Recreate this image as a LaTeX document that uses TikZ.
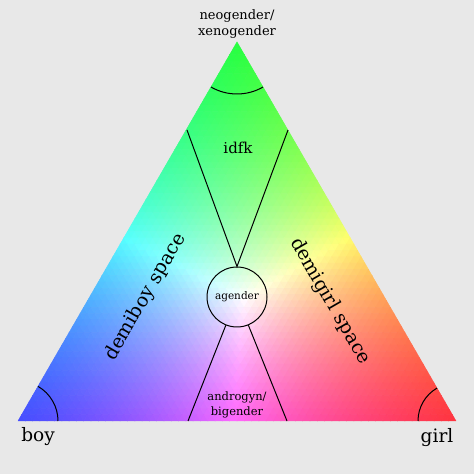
\documentclass[tikz,border=0pt]{standalone}
\usepackage{fontspec}
\setmainfont{DejaVu Serif}
\definecolor{bgc}{RGB}{232,232,232}
\newcommand\setcol[2]{%
  \pgfmathsetmacro\wtA{#1}%
  \pgfmathsetmacro\wtC{#2}%
  \pgfmathsetmacro\wtB{1-\wtA-\wtC}%
  \pgfmathsetmacro\colR{\wtA*0.15+\wtB*0.27+\wtC*1.0}%
  \pgfmathsetmacro\colG{\wtA*1.0+\wtB*0.3+\wtC*0.2}%
  \pgfmathsetmacro\colB{\wtA*0.25+\wtB*1.0+\wtC*0.25}%
  \pgfmathsetmacro\colM{max(\colR,\colG,\colB)}%
  \pgfmathsetmacro\colR{min(1,\colR/\colM)}%
  \pgfmathsetmacro\colG{min(1,\colG/\colM)}%
  \pgfmathsetmacro\colB{min(1,\colB/\colM)}%
  \definecolor{tc}{rgb}{\colR,\colG,\colB}}
\begin{document}
\begin{tikzpicture}[x=1pt,y=1pt,
  edge/.style={line width=1pt,black},
  lbl/.style={text=black,inner sep=1pt,align=center},
  cell/.style={fill=tc,draw=tc,line width=0.5pt,line join=round}]
\useasboundingbox (0,0) rectangle (474,474);
\fill[bgc] (0,0) rectangle (474,474);
\def\NN{60}
\pgfmathsetmacro\dxL{219/\NN}
\pgfmathsetmacro\dxR{438/\NN}
\pgfmathsetmacro\dy{379/\NN}
\foreach \i in {0,...,59}{
  \foreach \j in {0,...,\i}{
    \setcol{1-(3*\i+2)/(3*\NN)}{(3*\j+1)/(3*\NN)}
    \fill[cell] ({237-\dxL*\i+\dxR*\j},{432-\dy*\i})
      -- ({237-\dxL*(\i+1)+\dxR*\j},{432-\dy*(\i+1)})
      -- ({237-\dxL*(\i+1)+\dxR*(\j+1)},{432-\dy*(\i+1)}) -- cycle;
    \ifnum\j<\i
      \setcol{1-(3*\i+1)/(3*\NN)}{(3*\j+2)/(3*\NN)}
      \fill[cell] ({237-\dxL*\i+\dxR*\j},{432-\dy*\i})
        -- ({237-\dxL*\i+\dxR*(\j+1)},{432-\dy*\i})
        -- ({237-\dxL*(\i+1)+\dxR*(\j+1)},{432-\dy*(\i+1)}) -- cycle;
    \fi
  }
}
\coordinate (T) at (237,432);
\coordinate (L) at (18,53);
\coordinate (R) at (456,53);
\node[circle,draw,line width=1pt,minimum size=60pt,inner sep=0pt,font=\fontsize{10.5}{12}\selectfont] (agender) at (237,177) {agender};
\coordinate (ul) at (187,344);
\coordinate (ur) at (288,344);
\coordinate (bl) at (188,53);
\coordinate (br) at (287,53);
\draw[edge] (ul) -- (agender.north) -- (ur);
\draw[edge] (bl) -- (agender);
\draw[edge] (br) -- (agender);
\draw[edge] ([shift={(240:52)}]T) arc[start angle=240,end angle=300,radius=52];
\draw[edge] ([shift={(0:40)}]L) arc[start angle=0,end angle=60,radius=40];
\draw[edge] ([shift={(120:38)}]R) arc[start angle=120,end angle=180,radius=38];
\node[lbl,font=\fontsize{13}{16}\selectfont] (neo) at (237,450) {neogender/\\xenogender};
\node[lbl,font=\fontsize{18.5}{20}\selectfont] (boy) at (38,37) {boy};
\node[lbl,font=\fontsize{18.5}{20}\selectfont] (girl) at (437,36) {girl};
\node[lbl,font=\fontsize{15}{16}\selectfont] (idfk) at (238,326) {idfk};
\node[lbl,font=\fontsize{11.5}{15}\selectfont] (andro) at (237,69) {androgyn/\\bigender};
\node[lbl,font=\fontsize{19}{21}\selectfont,rotate=60] (demiboy) at (145.5,177) {demiboy space};
\node[lbl,font=\fontsize{19}{21}\selectfont,rotate=-60] (demigirl) at (330,173) {demigirl space};
\end{tikzpicture}
\end{document}
